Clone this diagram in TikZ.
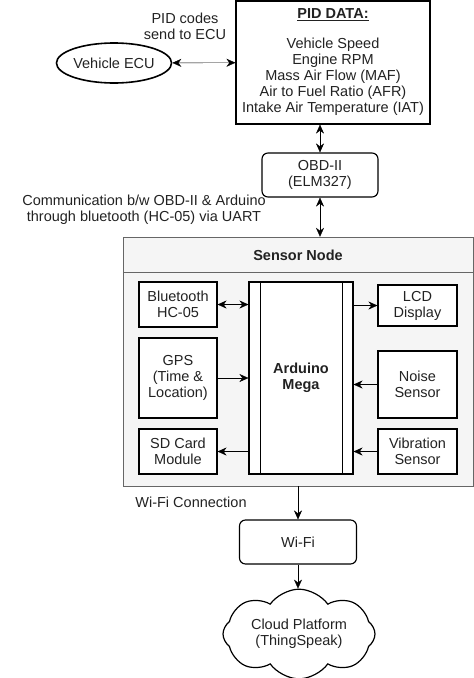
\documentclass[tikz,border=0pt]{standalone}
\usepackage{fontspec}
\setmainfont{Liberation Sans}
\usepackage{xcolor}
\definecolor{panel}{HTML}{F5F5F5}
\definecolor{rim}{HTML}{666666}
\definecolor{ink}{HTML}{222222}
\usetikzlibrary{shapes,shapes.symbols,arrows.meta,calc,positioning}
\tikzset{
    -{Stealth[length=9pt,width=8pt]},line width=1.2pt,
    box/.style ={rectangle, draw=black, line width=1.15pt, fill=white, align=center, inner sep=0pt, text=ink},
    rbox/.style ={box, rounded corners=6pt},
    both/.style={{Stealth[length=9pt,width=8pt]}-{Stealth[length=9pt,width=8pt]}},
    el/.style = {inner sep=0pt, align=center, text=ink}
}

\begin{document}
\begin{tikzpicture}[x=1pt,y=-1pt,font=\fontsize{14.5}{16}\selectfont]
      \useasboundingbox (0,0) rectangle (474,678);
      % top part
      \node[box, minimum width=194pt, minimum height=123pt] (pid) at (333,62.5)
        {\underline{\textbf{PID DATA:}}\\[14pt] Vehicle Speed\\ Engine RPM\\ Mass Air Flow (MAF)\\ Air to Fuel Ratio (AFR)\\ Intake Air Temperature (IAT)};
      \node[ellipse, draw, line width=1.6pt, minimum width=106pt, minimum height=40pt, inner sep=0pt, text=ink] (ecu) at (114,63) {Vehicle ECU};
      \node[el] (pidcodes) at (185,26) {PID codes\\send to ECU};
      \node[rbox, minimum width=116pt, minimum height=44pt] (obd) at (320,175) {OBD-II\\(ELM327)};
      \node[el] (comm) at (144,210) {Communication b/w OBD-II \& Arduino\\through bluetooth (HC-05) via UART};

      % sensor node
      \node[rectangle, draw=rim, fill=panel, minimum width=350pt, minimum height=249pt] (sensor) at (298,361.5) {};
      \draw[-, rim] ([yshift=-35pt]sensor.north west) -- ([yshift=-35pt]sensor.north east);
      \node[el] (title) at (298,255) {\textbf{Sensor Node}};
      \node[box, minimum width=104pt, minimum height=192pt] (ard) at (301,378) {\textbf{Arduino}\\\textbf{Mega}};
      \draw[-] ([xshift=12pt]ard.north west) -- ([xshift=12pt]ard.south west);
      \draw[-] ([xshift=-11pt]ard.north east) -- ([xshift=-11pt]ard.south east);
      \node[box, minimum width=78pt, minimum height=45pt] (bt) at (178,304.5) {Bluetooth\\HC-05};
      \node[box, minimum width=78pt, minimum height=80pt] (gps) at (178,378) {GPS\\(Time \&\\Location)};
      \node[box, minimum width=78pt, minimum height=45pt] (sd) at (178,451.5) {SD Card\\Module};
      \node[box, minimum width=79pt, minimum height=41pt] (lcd) at (417.5,305.5) {LCD\\Display};
      \node[box, minimum width=79pt, minimum height=67pt] (noise) at (417.5,384.5) {Noise\\Sensor};
      \node[box, minimum width=79pt, minimum height=45pt] (vib) at (417.5,451.5) {Vibration\\Sensor};

      % bottom part
      \node[el] (wificonn) at (191,502) {Wi-Fi Connection};
      \node[rbox, minimum width=117pt, minimum height=44pt] (wifi) at (298,542) {Wi-Fi};
      \node[cloud, draw, line width=1.2pt, cloud puffs=8, cloud puff arc=110, aspect=2, minimum width=152pt, minimum height=78pt, inner sep=0pt, align=center, text=ink] (cloud) at (299,634) {Cloud Platform\\(ThingSpeak)};

      \path[both] (ecu) edge (pid);
      \path[both] (obd.north |- pid.south) edge (obd.north);
      \path[both] (obd.south) edge (obd.south |- sensor.north);
      \path[both] (bt.east) edge (bt.east -| ard.west);
      \path (gps.east) edge (gps.east -| ard.west);
      \path (sd.east -| ard.west) edge (sd.east);
      \path (lcd.west -| ard.east) edge (lcd.west);
      \path (noise.west) edge (noise.west -| ard.east);
      \path (vib.west) edge (vib.west -| ard.east);
      \path (sensor.south) edge (wifi.north);
      \path (wifi.south) edge (wifi.south |- cloud.north);
    \end{tikzpicture}
\end{document}
